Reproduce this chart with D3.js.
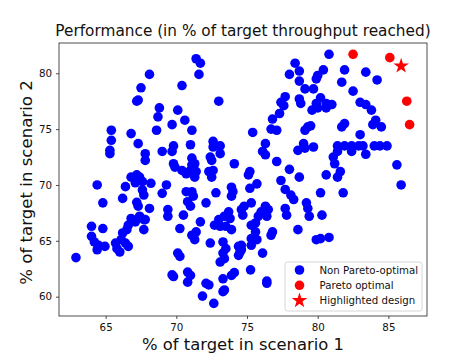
<!DOCTYPE html>
<html><head><meta charset="utf-8">
<script src="https://cdn.jsdelivr.net/npm/d3@7"></script>
<style>body{margin:0;background:#fff;}svg{display:block;font-family:"DejaVu Sans",sans-serif;}</style>
</head><body>
<svg id="c" width="474" height="355"></svg>
<script>
const blueX = [71.4,68.1,67.5,70.4,67.3,67.2,68.8,68.7,70.1,70.6,69.7,68.6,71.1,65.4,65.4,66.8,67.3,69.8,71.0,65.3,
71.7,71.6,73.0,78.4,78.7,78.0,78.7,80.4,80.0,79.9,80.8,79.1,79.7,77.7,77.4,77.6,78.7,78.8,80.2,79.9,80.0,79.6,80.6,77.3,76.8,76.7,77.1,75.4,79.3,79.5,79.1,72.6,73.1,76.3,79.0,79.7,
81.9,83.4,84.2,81.7,82.5,80.6,81.0,83.0,83.4,83.8,84.1,83.9,84.5,81.7,81.9,83.0,81.4,81.9,82.4,82.9,83.2,84.0,84.4,84.9,
81.1,81.4,82.4,83.4,81.2,81.6,80.6,81.4,85.6,85.9,81.8,80.2,80.3,80.8,80.2,
72.6,72.4,72.5,73.1,71.1,71.3,71.4,71.3,72.3,72.5,72.6,74.1,75.1,75.2,76.1,76.3,77.1,78.0,78.7,78.6,79.1,77.4,77.7,78.1,78.3,75.7,75.2,73.9,74.0,73.9,72.8,71.1,71.2,72.1,74.8,74.6,75.3,74.7,76.3,76.5,76.0,76.4,75.8,75.6,75.3,77.7,77.8,79.2,79.3,79.4,73.7,73.4,73.8,73.0,72.7,73.1,73.5,73.9,71.7,71.4,71.1,71.3,75.6,75.7,75.3,75.3,76.8,76.7,78.6,79.9,72.4,73.3,73.5,74.4,74.6,74.5,76.1,
65.3,67.8,67.8,69.0,69.7,69.8,69.9,70.4,70.7,71.0,71.1,66.8,67.2,67.4,67.1,67.6,64.4,66.4,66.2,67.6,67.7,68.2,69.3,69.0,64.8,67.2,67.3,68.1,69.4,69.4,70.5,70.7,70.8,71.0,66.8,67.4,67.7,67.1,66.6,66.5,66.2,66.1,66.4,66.6,67.8,67.7,64.0,64.8,64.0,64.2,64.5,64.4,64.95,65.7,65.8,66.0,62.9,70.25,
70.1,70.25,69.7,69.8,70.8,70.8,71.0,
73.3,73.1,73.4,74.4,74.6,72.1,72.3,73.3,73.9,74.1,75.25,73.4,73.3,76.4,76.4,71.85,72.65];
const blueY = [81.3,79.9,78.7,78.9,77.6,77.5,76.9,76.1,76.7,75.8,75.4,74.9,74.9,74.9,74.0,74.6,73.7,73.5,73.6,73.1,
80.9,79.9,77.5,80.9,80.2,79.9,79.3,80.3,79.8,79.5,81.7,78.6,78.6,77.9,77.4,77.1,77.7,77.3,77.8,77.3,76.9,76.7,76.9,76.4,75.9,75.0,74.9,74.7,75.2,75.3,74.9,73.9,73.5,73.7,73.7,73.4,
80.3,80.1,79.4,79.2,78.4,77.3,77.2,77.4,77.2,76.7,75.8,75.4,75.2,75.2,75.5,74.5,73.5,73.5,73.5,73.5,73.5,73.5,73.5,73.5,
72.5,73.0,73.0,72.75,71.9,71.2,70.9,70.7,71.8,70.0,69.3,69.3,67.3,65.3,65.2,
73.4,72.5,72.2,72.8,72.4,71.9,71.2,70.7,71.2,70.7,71.3,71.9,70.9,71.2,73.0,72.7,72.1,71.4,70.7,73.1,73.3,70.4,69.6,69.1,68.7,70.1,69.7,69.8,69.4,69.0,69.3,69.4,69.0,68.4,68.1,67.8,68.4,67.3,68.1,67.8,67.6,67.2,67.2,66.6,66.4,67.9,67.3,68.4,67.9,67.2,67.6,67.2,67.0,66.9,66.4,66.3,66.3,66.0,66.7,65.8,65.5,65.1,65.8,65.1,65.2,64.6,65.8,65.5,66.0,65.1,64.8,64.9,64.3,64.5,64.6,64.0,63.9,
72.8,72.8,72.2,73.0,73.0,71.9,71.6,71.3,71.0,71.3,71.8,70.7,70.9,70.7,70.2,70.3,70.0,69.85,68.8,69.55,69.1,70.15,70.0,69.25,68.4,68.45,68.1,67.9,67.8,67.2,67.3,69.4,68.5,68.1,67.0,67.2,66.9,66.7,66.4,66.0,65.7,65.1,64.8,64.5,66.9,66.0,66.3,66.1,65.4,64.9,64.6,64.2,64.5,64.8,64.3,64.0,63.5,66.1,
63.9,63.6,61.95,61.8,62.2,61.3,61.9,
63.9,63.1,63.4,63.7,64.2,61.2,61.05,61.6,61.9,62.15,62.4,60.6,60.45,61.4,61.2,60.05,59.4];
const paretoX = [82.5, 85.1, 86.3, 86.5];
const paretoY = [81.7, 81.4, 77.5, 75.4];
const highlightX = [85.9];
const highlightY = [80.65];
const xTicks = [65, 70, 75, 80, 85];
const yTicks = [60, 65, 70, 75, 80];
const legendLabels = ["Non Pareto-optimal", "Pareto optimal", "Highlighted design"];
const titleText = "Performance (in % of target throughput reached)";
const xLabel = "% of target in scenario 1";
const yLabel = "% of target in scenario 2";

const L = 59, R = 427, T = 43, B = 316;
const svg = d3.select("#c");
const x = d3.scaleLinear().domain([61.7, 87.73]).range([L, R]);
const y = d3.scaleLinear().domain([58.27, 82.71]).range([B, T]);
const blue = "#0000ff", red = "#ff0000", rad = 4.8;

const gx = svg.append("g").attr("transform", `translate(0,${B})`)
  .call(d3.axisBottom(x).tickValues(xTicks).tickSizeInner(3).tickSizeOuter(0).tickPadding(4.5));
const gy = svg.append("g").attr("transform", `translate(${L},0)`)
  .call(d3.axisLeft(y).tickValues(yTicks).tickSizeInner(3).tickSizeOuter(0).tickPadding(4));
[gx, gy].forEach(g => {
  g.select(".domain").remove();
  g.selectAll("line").attr("stroke", "#222").attr("stroke-width", 0.8);
  g.selectAll("text").attr("font-size", 10.3).attr("fill", "#111").attr("font-family", "DejaVu Sans");
});

const pts = svg.append("g");
pts.selectAll("circle.b").data(d3.range(blueX.length)).join("circle").attr("class","b")
  .attr("cx", i => x(blueX[i])).attr("cy", i => y(blueY[i])).attr("r", rad).attr("fill", blue);
pts.selectAll("circle.r").data(d3.range(paretoX.length)).join("circle").attr("class","r")
  .attr("cx", i => x(paretoX[i])).attr("cy", i => y(paretoY[i])).attr("r", rad).attr("fill", red);
const star = d3.symbol().type(d3.symbolStar).size(75);
pts.selectAll("path.s").data(d3.range(highlightX.length)).join("path").attr("class","s")
  .attr("d", star).attr("transform", i => `translate(${x(highlightX[i])},${y(highlightY[i])})`).attr("fill", red);

svg.append("rect").attr("x", L).attr("y", T).attr("width", R - L).attr("height", B - T)
  .attr("fill", "none").attr("stroke", "#222").attr("stroke-width", 0.8);

svg.append("text").attr("x", (L + R) / 2).attr("y", 36).attr("text-anchor", "middle")
  .attr("font-size", 15.3).attr("fill", "#111").text(titleText);
svg.append("text").attr("x", (L + R) / 2).attr("y", 350).attr("text-anchor", "middle")
  .attr("font-size", 16.4).attr("fill", "#111").text(xLabel);
svg.append("text").attr("transform", `translate(31.5,${(T + B) / 2 + 3}) rotate(-90)`).attr("text-anchor", "middle")
  .attr("font-size", 16.6).attr("fill", "#111").text(yLabel);

const lg = svg.append("g");
lg.append("rect").attr("x", 285).attr("y", 262).attr("width", 137).attr("height", 49).attr("rx", 2.5)
  .attr("fill", "white").attr("fill-opacity", 0.8).attr("stroke", "#ccc").attr("stroke-width", 0.8);
const rowY = [270, 285.3, 300.6];
const colors = [blue, red, red];
legendLabels.forEach((t, i) => {
  if (i < 2) lg.append("circle").attr("cx", 299.5).attr("cy", rowY[i]).attr("r", rad).attr("fill", colors[i]);
  else lg.append("path").attr("d", star).attr("transform", `translate(299.5,${rowY[i]})`).attr("fill", colors[i]);
  lg.append("text").attr("x", 319.5).attr("y", rowY[i] + 3.6).attr("font-size", 10.2).attr("fill", "#111").text(t);
});
</script>
</body></html>
